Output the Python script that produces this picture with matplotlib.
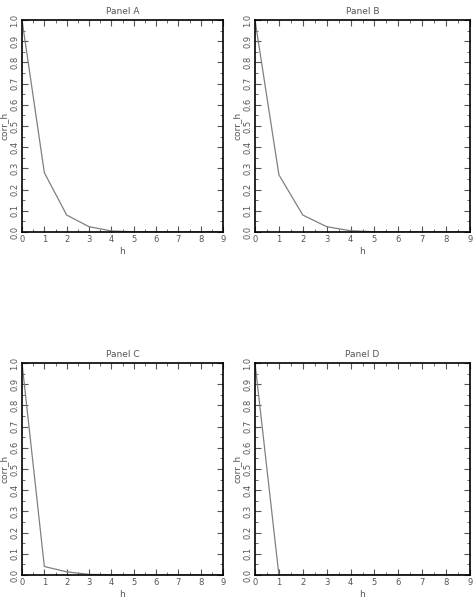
import matplotlib
matplotlib.use("Agg")
import matplotlib.pyplot as plt
from matplotlib.ticker import MultipleLocator

h = [0, 1, 2, 3, 4, 5, 6, 7, 8, 9]
corr_a = [1.0, 0.28, 0.08, 0.025, 0.005, 0.001, 0.0, 0.0, 0.0, 0.0]
corr_b = [1.0, 0.27, 0.08, 0.025, 0.006, 0.001, 0.0, 0.0, 0.0, 0.0]
corr_c = [1.0, 0.04, 0.015, 0.003, 0.001, 0.0, 0.0, 0.0, 0.0, 0.0]
corr_d = [1.0, 0.0, 0.0, 0.0, 0.0, 0.0, 0.0, 0.0, 0.0, 0.0]
titles = ["Panel A", "Panel B", "Panel C", "Panel D"]

W, H = 474, 603
fig = plt.figure(figsize=(W/100, H/100), dpi=100)
boxes = [(22, 20, 223, 232), (255, 20, 470, 232), (22, 363, 223, 575), (255, 363, 470, 575)]
gray = "#808080"
for (l, t, r, b), y, title in zip(boxes, [corr_a, corr_b, corr_c, corr_d], titles):
    ax = fig.add_axes([l/W, 1-b/H, (r-l)/W, (b-t)/H])
    ax.plot(h, y, color=gray, lw=0.9)
    ax.set_xlim(0, 9); ax.set_ylim(0, 1)
    ax.xaxis.set_major_locator(MultipleLocator(1))
    ax.yaxis.set_major_locator(MultipleLocator(0.1))
    ax.xaxis.set_minor_locator(MultipleLocator(0.5))
    ax.yaxis.set_minor_locator(MultipleLocator(0.05))
    ax.tick_params(which="both", direction="in", top=True, right=True, labelsize=6, colors="#555555", pad=2)
    ax.tick_params(which="major", length=4)
    ax.tick_params(which="minor", length=2)
    ax.set_yticklabels([f"{v:.1f}" for v in ax.get_yticks()], rotation=90, va="center")
    for s in ax.spines.values():
        s.set_linewidth(1.2)
    ax.set_xlabel("h", fontsize=6.5, color="#555555", labelpad=2)
    ax.set_ylabel("corr_h", fontsize=6.5, color="#555555", labelpad=1)
    ax.set_title(title, fontsize=6.5, color="#555555", pad=4)
fig.savefig("out.png", dpi=100)
